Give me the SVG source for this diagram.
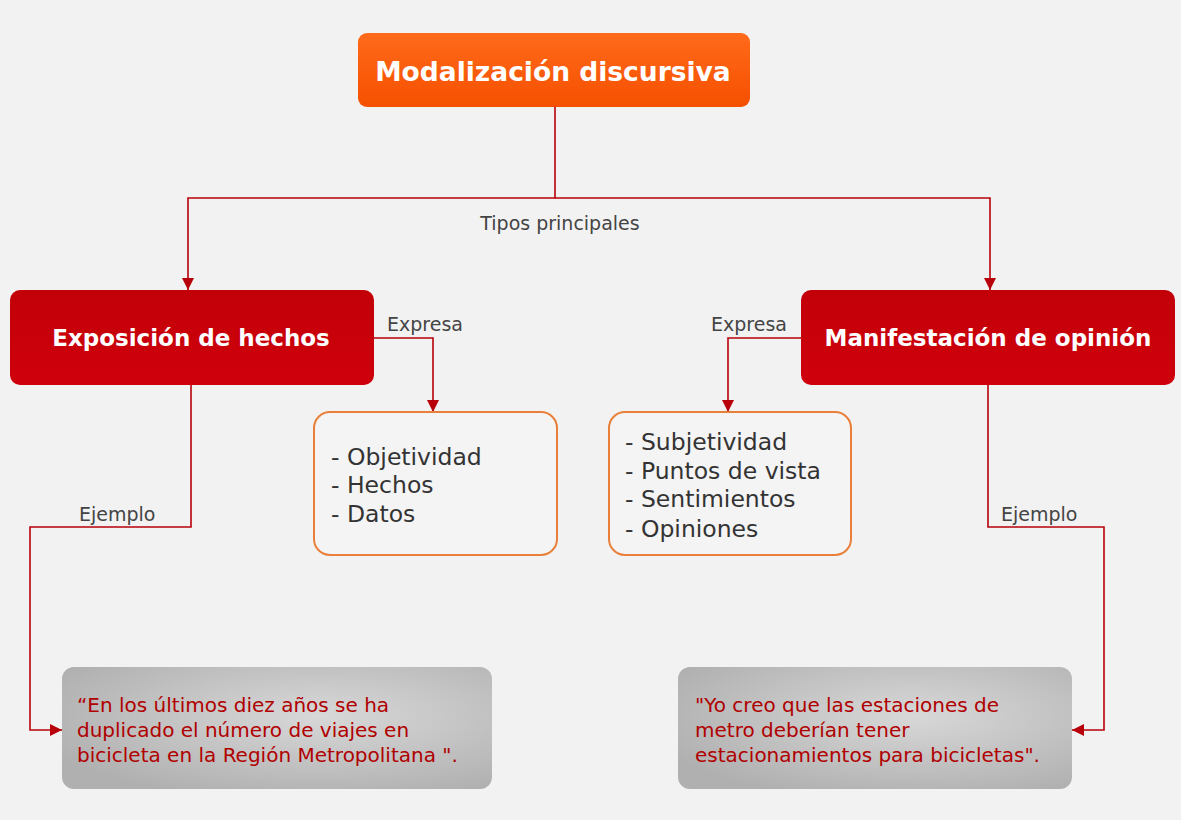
<svg xmlns="http://www.w3.org/2000/svg" width="1181" height="820" viewBox="0 0 1181 820">
<defs>
<linearGradient id="gO" x1="0" y1="0" x2="0" y2="1"><stop offset="0" stop-color="#ff6a1a"/><stop offset="1" stop-color="#f55000"/></linearGradient>
<linearGradient id="gR" x1="0" y1="0" x2="0" y2="1"><stop offset="0" stop-color="#c20008"/><stop offset="1" stop-color="#cf000c"/></linearGradient>
<radialGradient id="gG" cx="0.6" cy="0.4" r="0.7"><stop offset="0" stop-color="#d8d8d8"/><stop offset="1" stop-color="#b0b0b0"/></radialGradient>
<marker id="ar" viewBox="0 0 10 10" refX="10" refY="5" markerWidth="12" markerHeight="12" markerUnits="userSpaceOnUse" orient="auto"><path d="M0,0 L10,5 L0,10 z" fill="#b8000a"/></marker>
<style>
text{font-family:"DejaVu Sans",Verdana,sans-serif}
.h{fill:#fff;font-weight:bold;text-anchor:middle}
.lb{fill:#444;font-size:19px}
.li{fill:#333;font-size:23.5px}
.q{fill:#b00000;font-size:20px}
.c{fill:none;stroke:#b8000a;stroke-width:1.6}
</style>
</defs>
<rect width="1181" height="820" fill="#f2f2f2"/>
<g id="connectors">
<path class="c" d="M555,107 V198 H188 V290" marker-end="url(#ar)"/>
<path class="c" d="M555,198 H990 V290" marker-end="url(#ar)"/>
<path class="c" d="M374,338 H433 V412" marker-end="url(#ar)"/>
<path class="c" d="M801,338 H728 V412" marker-end="url(#ar)"/>
<path class="c" d="M191,385 V527 H30 V730 H62" marker-end="url(#ar)"/>
<path class="c" d="M988,385 V527 H1104 V730 H1072" marker-end="url(#ar)"/>
<text class="lb" x="560" y="230" text-anchor="middle">Tipos principales</text>
<text class="lb" x="387" y="331">Expresa</text>
<text class="lb" x="711" y="331">Expresa</text>
<text class="lb" x="79" y="521">Ejemplo</text>
<text class="lb" x="1001" y="521">Ejemplo</text>
</g>
<g id="n-modal"><rect x="358" y="33" width="392" height="74" rx="9" fill="url(#gO)"/><text class="h" x="553" y="81" font-size="26.5">Modalización discursiva</text></g>
<g id="n-expo"><rect x="10" y="290" width="364" height="95" rx="10" fill="url(#gR)"/><text class="h" x="191" y="346" font-size="23">Exposición de hechos</text></g>
<g id="n-mani"><rect x="801" y="290" width="374" height="95" rx="10" fill="url(#gR)"/><text class="h" x="988" y="346" font-size="23">Manifestación de opinión</text></g>
<g id="n-obj"><rect x="314" y="412" width="243" height="143" rx="16" fill="#f4f4f4" stroke="#e8803a" stroke-width="2"/>
<text class="li" x="331" y="465">- Objetividad</text><text class="li" x="331" y="493">- Hechos</text><text class="li" x="331" y="522">- Datos</text></g>
<g id="n-sub"><rect x="609" y="412" width="242" height="143" rx="16" fill="#f4f4f4" stroke="#e8803a" stroke-width="2"/>
<text class="li" x="625" y="450">- Subjetividad</text><text class="li" x="625" y="479">- Puntos de vista</text><text class="li" x="625" y="507">- Sentimientos</text><text class="li" x="625" y="537">- Opiniones</text></g>
<g id="n-ej1"><rect x="62" y="667" width="430" height="122" rx="12" fill="url(#gG)"/>
<text class="q" x="77" y="712">“En los últimos diez años se ha</text><text class="q" x="77" y="737">duplicado el número de viajes en</text><text class="q" x="77" y="762">bicicleta en la Región Metropolitana ".</text></g>
<g id="n-ej2"><rect x="678" y="667" width="394" height="122" rx="12" fill="url(#gG)"/>
<text class="q" x="695" y="712">"Yo creo que las estaciones de</text><text class="q" x="695" y="737">metro deberían tener</text><text class="q" x="695" y="762">estacionamientos para bicicletas".</text></g>
</svg>
